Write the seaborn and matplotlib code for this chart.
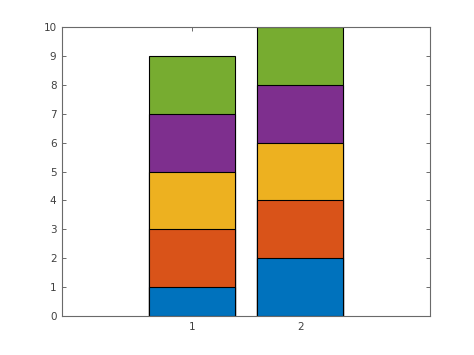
import numpy as np
import pandas as pd
import matplotlib
matplotlib.use("Agg")
import matplotlib.pyplot as plt
import seaborn as sns

# stacked segment heights per bar (bottom to top)
x_pos = [1, 2]
seg1 = [1, 2]
seg2 = [2, 2]
seg3 = [2, 2]
seg4 = [2, 2]
seg5 = [2, 2]
colors = ['#0072BD', '#D95319', '#EDB120', '#7E2F8E', '#77AC30']

sns.set_style('white')
plt.rcParams['font.family'] = ['DejaVu Sans']

fig = plt.figure(figsize=(4.74, 3.55), dpi=100)
ax = fig.add_axes([62 / 474, 39 / 355, 368 / 474, 289 / 355])

segs = [seg1, seg2, seg3, seg4, seg5]
cum = np.cumsum(np.array(segs), axis=0)

# draw tallest cumulative first so lower segments sit on top
for i in range(len(segs) - 1, -1, -1):
    df = pd.DataFrame({'x': x_pos, 'y': cum[i]})
    sns.barplot(data=df, x='x', y='y', native_scale=True, width=0.8,
                color=colors[i], saturation=1, edgecolor='black',
                linewidth=0.8, ax=ax)

ax.set_xlim(-0.2, 3.2)
ax.set_ylim(0, 10)
ax.set_xticks([1, 2])
ax.set_yticks(range(0, 11))
ax.set_xlabel('')
ax.set_ylabel('')

for sp in ax.spines.values():
    sp.set_visible(True)
    sp.set_color('#6a6a6a')
    sp.set_linewidth(0.8)

ax.tick_params(direction='in', length=3, width=0.7, color='#6a6a6a',
               labelsize=7.5, labelcolor='#404040', top=True, right=True,
               bottom=True, left=True, pad=4)

fig.savefig('out.png', dpi=100)
